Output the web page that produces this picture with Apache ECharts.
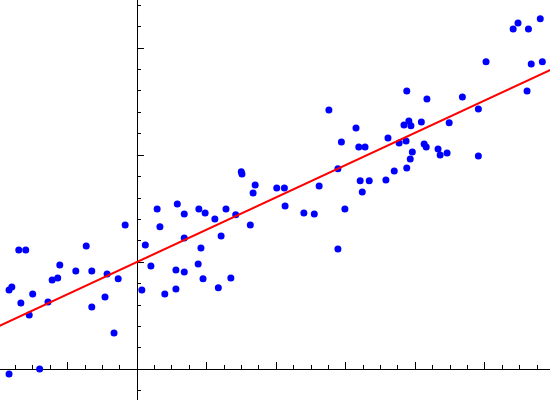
<!DOCTYPE html>
<html><head><meta charset="utf-8">
<script src="https://cdn.jsdelivr.net/npm/echarts@6/dist/echarts.min.js"></script>
<style>html,body{margin:0;padding:0;background:#fff}#c{width:550px;height:400px}</style>
</head><body><div id="c"></div>
<script>
const xs = [-1.7,-17.0,-16.0,-7.3,-11.1,-8.8,-6.5,-4.3,-12.2,-11.4,-2.7,-18.4,-18.0,-15.0,-4.6,-16.7,-12.8,-6.5,-15.5,-3.3,-14.0,-18.4,
0.7,1.2,2.0,2.9,3.3,4.0,5.8,5.6,5.6,6.8,6.8,6.8,8.9,8.8,9.2,9.5,9.8,11.2,12.1,11.7,12.8,13.5,14.2,15.0,15.1,16.3,16.7,17.0,
20.1,21.2,21.3,24.0,25.5,26.2,27.6,28.9,28.9,29.9,29.4,31.5,31.9,32.8,32.1,32.4,33.4,35.8,36.1,37.0,37.7,38.7,38.4,39.1,39.4,38.8,
40.9,39.6,39.3,38.8,41.3,41.6,41.7,43.3,43.6,44.6,44.9,46.8,49.1,49.1,50.2,54.1,54.8,56.3,58.0,56.7,58.3,56.1,59.6];
const ys = [6.73,5.56,5.56,5.75,4.86,4.58,4.58,4.44,4.16,4.25,4.21,3.69,3.83,3.50,3.36,3.08,3.13,2.90,2.52,1.68,0.0,-0.23,
3.69,5.79,4.81,7.48,6.64,3.50,7.71,4.63,3.74,7.24,6.12,4.53,7.48,4.91,5.65,4.21,7.29,7.01,6.21,3.79,7.48,4.25,7.20,9.21,9.11,6.73,8.22,8.60,
8.46,8.46,7.62,7.29,7.24,8.55,12.10,9.35,5.61,7.48,10.61,11.26,10.37,10.37,8.79,8.27,8.79,8.83,10.79,9.25,10.56,10.65,11.40,11.59,11.36,12.99,
11.54,10.14,9.81,9.39,10.51,10.37,12.62,10.28,10.00,10.09,11.50,12.71,12.15,9.95,14.35,15.89,16.17,15.89,16.36,14.25,14.35,12.99,11.92];
const fitX = [-20, 62];
const fitY = [1.98, 14.36];
const xLabels = [-10,10,20,30,40,50];
const xMinor = [];
for (let v=-17.5; v<=59; v+=2.5) xMinor.push(v);
const yLabels = [5,10,15];
const yMinor = [];
for (let v=-1; v<=17; v+=1) if (v!==0) yMinor.push(v);

const chart = echarts.init(document.getElementById('c'));
const font = {fontFamily:'DejaVu Sans', fontSize:14, color:'#000'};
chart.setOption({
  animation:false,
  grid:{left:0,right:0,top:0,bottom:0,containLabel:false,outerBoundsMode:'none'},
  xAxis:[{type:'value',min:-19.7,max:59.4,splitLine:{show:false},
    axisLine:{onZero:true,lineStyle:{color:'#000',width:1}},
    axisTick:{inside:true,length:4,customValues:xMinor,lineStyle:{color:'#000'}},
    axisLabel:{customValues:xLabels,margin:6,...font}},
   {type:'value',min:-19.7,max:59.4,splitLine:{show:false},position:'bottom',
    axisLine:{show:true,onZero:true,lineStyle:{color:'#000'}},
    axisTick:{inside:true,length:7,customValues:[-10,10,20,30,40,50],lineStyle:{color:'#000'}},
    axisLabel:{show:false}}],
  yAxis:[{type:'value',min:-1.45,max:17.24,splitLine:{show:false},
    axisLine:{onZero:true,lineStyle:{color:'#000'}},
    axisTick:{inside:true,length:4,customValues:yMinor,lineStyle:{color:'#000'}},
    axisLabel:{customValues:yLabels,margin:8,...font}},
   {type:'value',min:-1.45,max:17.24,splitLine:{show:false},position:'left',
    axisLine:{show:false,onZero:true},
    axisTick:{inside:true,length:7,customValues:[5,10,15],lineStyle:{color:'#000'}},
    axisLabel:{show:false}}],
  series:[
    {type:'scatter',data:xs.map((x,i)=>[x,ys[i]]),symbolSize:7,itemStyle:{color:'#0000ff',opacity:1}},
    {type:'line',data:fitX.map((x,i)=>[x,fitY[i]]),symbol:'none',lineStyle:{color:'#ff0000',width:2},z:3}
  ]
});
</script></body></html>
